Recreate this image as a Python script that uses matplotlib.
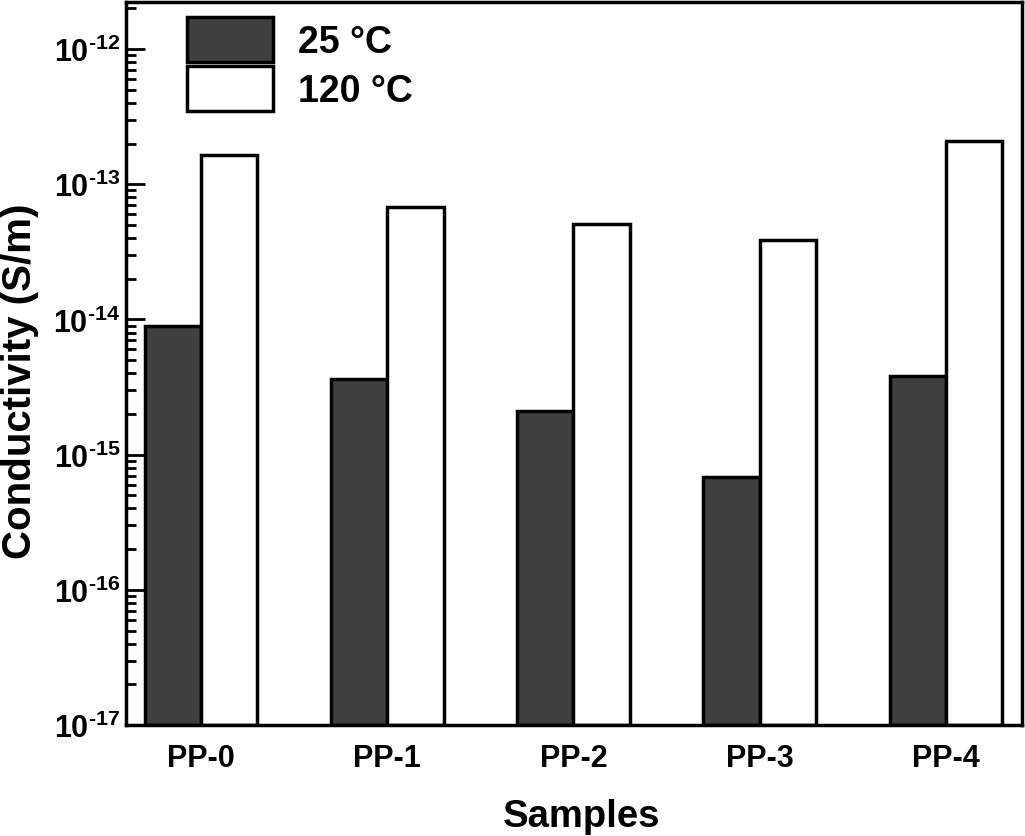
import matplotlib
matplotlib.use("Agg")
import matplotlib.pyplot as plt
from matplotlib.ticker import LogLocator, FixedLocator, FuncFormatter, NullFormatter
from matplotlib.patches import Patch
import numpy as np

samples = ["PP-0", "PP-1", "PP-2", "PP-3", "PP-4"]
cond_25C = [8.9e-15, 3.6e-15, 2.1e-15, 6.7e-16, 3.8e-15]
cond_120C = [1.64e-13, 6.8e-14, 5.1e-14, 3.9e-14, 2.1e-13]
series_labels = ["25 \u00b0C", "120 \u00b0C"]
y_major = [1e-17, 1e-16, 1e-15, 1e-14, 1e-13, 1e-12]

plt.rcParams['font.family'] = ['Liberation Sans', 'DejaVu Sans']
plt.rcParams['font.weight'] = 'bold'
plt.rcParams['mathtext.fontset'] = 'custom'
plt.rcParams['mathtext.rm'] = 'Liberation Sans:bold'
plt.rcParams['mathtext.bf'] = 'Liberation Sans:bold'
plt.rcParams['mathtext.it'] = 'Liberation Sans:bold'

fig = plt.figure(figsize=(10.25, 8.37), dpi=100)
ax = fig.add_axes([0.1229, 0.1326, 0.997 - 0.1229, 0.9964 - 0.1326])

x = np.arange(len(samples))
w = 0.303
ax.bar(x - w / 2, cond_25C, width=w, color='#404040', edgecolor='black', linewidth=2.5, bottom=1e-17)
ax.bar(x + w / 2, cond_120C, width=w, color='white', edgecolor='black', linewidth=2.5, bottom=1e-17)

ax.set_yscale('log')
ax.set_ylim(1e-17, 10 ** (-11.652))
ax.set_xlim(-0.403, 4.408)

ax.yaxis.set_major_locator(FixedLocator(y_major))
ax.yaxis.set_minor_locator(LogLocator(base=10, subs=np.arange(2, 10), numticks=100))
ax.yaxis.set_minor_formatter(NullFormatter())
ax.yaxis.set_major_formatter(FuncFormatter(
    lambda v, p: r"$\mathbf{10^{\text{-}%d}}$" % abs(int(round(np.log10(v))))))
ax.tick_params(axis='y', which='major', direction='in', length=14, width=2, labelsize=22, pad=4)
ax.tick_params(axis='y', which='minor', direction='in', length=7, width=2)
ax.set_xticks(x)
ax.set_xticklabels(samples, fontsize=22, fontweight='bold')
ax.tick_params(axis='x', length=0, pad=13)

for s in ax.spines.values():
    s.set_linewidth(2.5)

ax.set_ylabel("Conductivity (S/m)", fontsize=29, fontweight='bold', va='center')
ax.yaxis.set_label_coords((20 - 126) / 896, (726 - 381) / 723)
ax.set_xlabel("Samples", fontsize=27.5, fontweight='bold', va='baseline')
ax.xaxis.set_label_coords((582 - 126) / 896, (726 - 827) / 723)

handles = [Patch(facecolor='#404040', edgecolor='black', linewidth=2.5),
           Patch(facecolor='white', edgecolor='black', linewidth=2.5)]
leg = ax.legend(handles, series_labels, loc='upper left',
                bbox_to_anchor=((187 - 126) / 896, (726 - 18) / 723),
                frameon=False, fontsize=27, handlelength=2.29, handleheight=1.45,
                handletextpad=0.67, labelspacing=0.13, borderaxespad=0, borderpad=0)
for t in leg.get_texts():
    t.set_fontweight('bold')

fig.savefig("out.png", dpi=100)
